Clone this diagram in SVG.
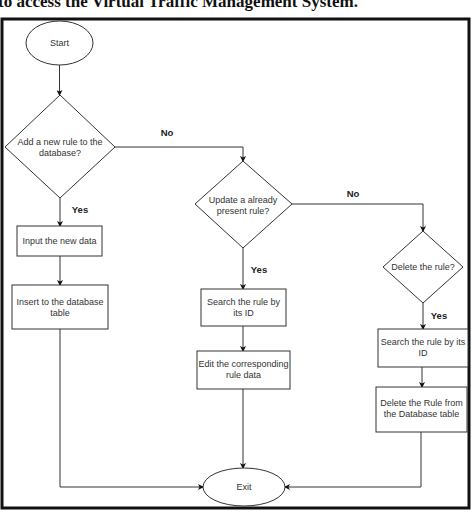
<svg xmlns="http://www.w3.org/2000/svg" width="474" height="525" viewBox="0 0 474 525">
<defs>
<marker id="arr" markerWidth="6" markerHeight="6" refX="5" refY="3" orient="auto" markerUnits="userSpaceOnUse">
<path d="M0,0 L6,3 L0,6 L1.5,3 Z" fill="#111"/>
</marker>
<style>
.shape{fill:#fff;stroke:#333;stroke-width:1}
.t{font-family:"Liberation Sans",Arial,sans-serif;font-size:9px;fill:#333;text-anchor:middle;dominant-baseline:central}
.lbl{font-family:"Liberation Sans",Arial,sans-serif;font-size:9.5px;font-weight:bold;fill:#222;text-anchor:middle;dominant-baseline:central}
.c{fill:none;stroke:#333;stroke-width:1;marker-end:url(#arr)}
</style>
</defs>
<rect width="474" height="525" fill="#fff"/>
<text x="-2" y="7" font-family="'Liberation Serif','Times New Roman',serif" font-size="16" font-weight="bold" fill="#111" textLength="360" lengthAdjust="spacingAndGlyphs">to access the Virtual Traffic Management System.</text>
<rect x="2" y="19" width="467" height="489" fill="#fff" stroke="#111" stroke-width="3"/>
<g id="connectors">
<path class="c" d="M59.5,65 V95"/>
<path class="c" d="M115,147 H243 V161"/>
<path class="c" d="M60,198 V226"/>
<path class="c" d="M60,256 V285"/>
<path class="c" d="M60,329 V487 H203"/>
<path class="c" d="M292,204 H423 V231"/>
<path class="c" d="M243,248 V289"/>
<path class="c" d="M243,326 V351"/>
<path class="c" d="M243,389 V468"/>
<path class="c" d="M423,303 V329"/>
<path class="c" d="M422,367 V387"/>
<path class="c" d="M421,432 V487 H285"/>
<text class="lbl" x="167" y="132">No</text>
<text class="lbl" x="80" y="209">Yes</text>
<text class="lbl" x="353" y="193">No</text>
<text class="lbl" x="259" y="269">Yes</text>
<text class="lbl" x="439" y="315">Yes</text>
</g>
<g id="start">
<ellipse class="shape" cx="59.5" cy="43" rx="33.5" ry="22"/>
<text class="t" x="59.5" y="43">Start</text>
</g>
<g id="d1">
<polygon class="shape" points="60,95 115,147 60,198 5,147"/>
<text class="t" x="60" y="142">Add a new rule to the</text>
<text class="t" x="60" y="153">database?</text>
</g>
<g id="b1">
<rect class="shape" x="17" y="226" width="85" height="30"/>
<text class="t" x="59.5" y="241">Input the new data</text>
</g>
<g id="b2">
<rect class="shape" x="12" y="285" width="96" height="44"/>
<text class="t" x="60" y="302">Insert to the database</text>
<text class="t" x="60" y="313">table</text>
</g>
<g id="d2">
<polygon class="shape" points="243,161 292,204 243,248 195,204"/>
<text class="t" x="243" y="199.5">Update a already</text>
<text class="t" x="243" y="210.5">present rule?</text>
</g>
<g id="b3">
<rect class="shape" x="201" y="289" width="85" height="37"/>
<text class="t" x="243.5" y="302">Search the rule by</text>
<text class="t" x="243.5" y="313">its ID</text>
</g>
<g id="b4">
<rect class="shape" x="197" y="351" width="93" height="38"/>
<text class="t" x="243.5" y="364">Edit the corresponding</text>
<text class="t" x="243.5" y="375">rule data</text>
</g>
<g id="d3">
<polygon class="shape" points="423,231 463,267 423,303 383,267"/>
<text class="t" x="423" y="267">Delete the rule?</text>
</g>
<g id="b5">
<rect class="shape" x="378" y="329" width="90" height="38"/>
<text class="t" x="423" y="342">Search the rule by its</text>
<text class="t" x="423" y="353">ID</text>
</g>
<g id="b6">
<rect class="shape" x="376" y="387" width="91" height="45"/>
<text class="t" x="421.5" y="403">Delete the Rule from</text>
<text class="t" x="421.5" y="414">the Database table</text>
</g>
<g id="exit">
<ellipse class="shape" cx="244" cy="487" rx="41" ry="19"/>
<text class="t" x="244" y="487">Exit</text>
</g>
</svg>
